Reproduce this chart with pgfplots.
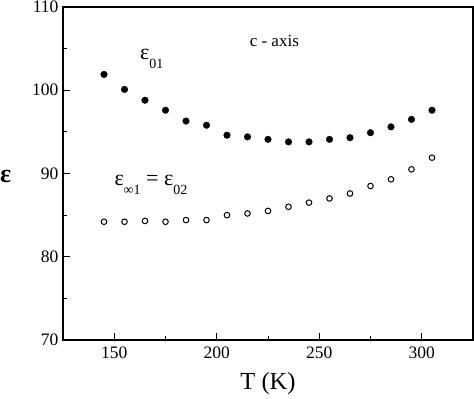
\documentclass[border=0pt]{standalone}
\usepackage{fontspec}
\setmainfont{Liberation Serif}
\usepackage{pgfplots}
\pgfplotsset{compat=1.18}
\begin{document}
\begin{tikzpicture}
\begin{axis}[name=ax,
  width=410pt, height=333pt, scale only axis,
  xmin=125, xmax=325, ymin=70, ymax=110,
  xtick={150,200,250,300}, ytick={70,80,90,100,110},
  minor x tick num=1, minor y tick num=1,
  tick pos=left, tick align=inside,
  major tick length=7pt, minor tick length=4pt,
  axis line style={line width=1.2pt}, every tick/.style={line width=1pt, black},
  /pgf/number format/assume math mode=true,
  tick label style={font=\fontsize{17.5}{17.5}\selectfont},
  xticklabel style={yshift=-3pt},
  yticklabel style={xshift=-1pt},
  xlabel={T (K)}, ylabel={\bfseries ε},
  xlabel style={font=\fontsize{24.5}{24.5}\selectfont, at={(axis description cs:0.5,-0.13)}, anchor=center},
  ylabel style={font=\fontsize{26}{26}\selectfont, rotate=-90, at={(axis description cs:-0.14,0.49)}, anchor=center},
  clip=false,
]
\addplot[only marks, mark=*, mark size=3.3pt, black] coordinates {
(145,101.9) (155,100.1) (165,98.8) (175,97.6) (185,96.3) (195,95.8) (205,94.6) (215,94.4) (225,94.1) (235,93.8) (245,93.8) (255,94.1) (265,94.3) (275,94.9) (285,95.6) (295,96.5) (305,97.6)};
\addplot[only marks, mark=o, mark size=2.8pt, line width=1pt, black] coordinates {
(145,84.2) (155,84.2) (165,84.3) (175,84.2) (185,84.4) (195,84.4) (205,85.0) (215,85.2) (225,85.5) (235,86.0) (245,86.5) (255,87.0) (265,87.6) (275,88.5) (285,89.3) (295,90.5) (305,91.9)};
\node[anchor=base west, font=\fontsize{17}{17}\selectfont] at (axis cs:214.4,105.25) {c - axis};
\node[anchor=base west, font=\fontsize{22}{22}\selectfont] at (axis cs:160.9,103.65) {ε\raisebox{-9pt}{\fontsize{14}{14}\selectfont 01}};
\node[anchor=base west, font=\fontsize{22}{22}\selectfont] at (axis cs:148.4,88.5) {ε\raisebox{-9pt}{\fontsize{14}{14}\selectfont ∞1} = ε\raisebox{-9pt}{\fontsize{14}{14}\selectfont 02}};
\end{axis}
\pgfresetboundingbox
\path (ax.south west) ++(-63pt,-59pt) rectangle ([shift={(1pt,7pt)}]ax.north east);
\end{tikzpicture}
\end{document}
